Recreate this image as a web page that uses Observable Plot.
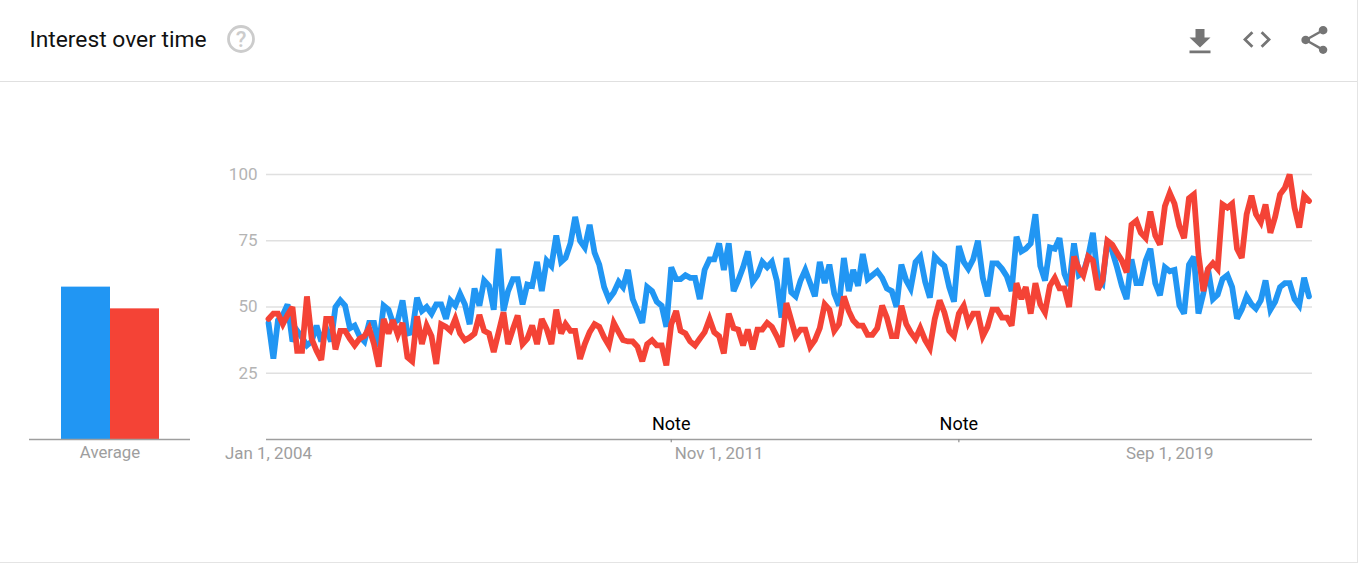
<!DOCTYPE html>
<html>
<head>
<meta charset="utf-8">
<script src="https://cdn.jsdelivr.net/npm/d3@7"></script>
<script src="https://cdn.jsdelivr.net/npm/@observablehq/plot@0.6"></script>
<style>
html,body{margin:0;padding:0;background:#fff;}
#card{position:relative;width:1358px;height:563px;box-sizing:border-box;border-right:1px solid #e4e4e4;border-bottom:1px solid #e4e4e4;overflow:hidden;font-family:Roboto,sans-serif;}
#head{position:absolute;left:0;top:0;width:1358px;height:81px;border-bottom:1px solid #e0e0e0;}
#title{position:absolute;left:29.5px;top:26px;font-size:22.8px;line-height:28px;color:#111;}
#icons{position:absolute;left:0;top:0;}
#lines,#bars{position:absolute;left:0;top:0;}
#lines svg,#bars svg{background:transparent;max-width:none;}
</style>
</head>
<body>
<div id="card">
  <div id="head">
    <div id="title">Interest over time</div>
    <svg id="icons" width="1358" height="81" aria-hidden="true">
      <circle cx="241" cy="39" r="12.5" fill="none" stroke="#cccccc" stroke-width="2.8"></circle>
      <text x="241" y="47" text-anchor="middle" font-family="Roboto" font-size="22" font-weight="500" fill="#cccccc">?</text>
      <path transform="translate(1182,24.7) scale(1.5,1.43)" fill="#757575" d="M19 9h-4V3H9v6H5l7 7 7-7zM5 18v2h14v-2H5z"></path>
      <path transform="translate(1240.2,23) scale(1.4,1.37)" fill="#757575" d="M9.4 16.6L4.8 12l4.6-4.6L8 6l-6 6 6 6 1.4-1.4zm5.2 0l4.6-4.6-4.6-4.6L16 6l6 6-6 6-1.4-1.4z"></path>
      <path transform="translate(1297,23.2) scale(1.45,1.4)" fill="#757575" d="M18 16.08c-.76 0-1.44.3-1.96.77L8.91 12.7c.05-.23.09-.46.09-.7s-.04-.47-.09-.7l7.05-4.11c.54.5 1.25.81 2.04.81 1.66 0 3-1.34 3-3s-1.34-3-3-3-3 1.34-3 3c0 .24.04.47.09.7L8.04 9.81C7.5 9.31 6.79 9 6 9c-1.66 0-3 1.34-3 3s1.34 3 3 3c.79 0 1.5-.31 2.04-.81l7.12 4.16c-.05.21-.08.43-.08.65 0 1.61 1.31 2.92 2.92 2.92 1.61 0 2.92-1.31 2.92-2.92s-1.31-2.92-2.92-2.92z"></path>
    </svg>
  </div>
  <div id="bars"></div>
  <div id="lines"></div>
</div>
<script>
const blueValues = [
  44,30.5,45,47,51,37,41,38.5,35.5,37,
  43,37,42,37,50,52.5,50.5,42,43,39,
  37,44,44,35,50.5,49,44,45,52.5,40,
  40.5,53.5,48.5,50,47.5,51,51,45.5,52.5,50.5,
  55,51,43.5,57,50.5,60,58,49,72,48.5,
  56,60.5,60.5,51,58.5,58,67,56,67.5,65.5,
  77,67,68.5,74,84,75,72.5,81,70.5,66,
  57.5,53,55.5,59.5,57.5,64,53,48.5,44,57.5,
  56,52,50.5,42.5,65,60.5,60.5,62,61,61,
  53,64,68,68,74,64,74,56,60,65,
  71,59.5,62,67,65,67,60,46,68.5,55.5,
  54,60,64,59,54,67,59,66,55,50.5,
  68.5,56,64,58,70,60.5,62,63.5,61,57,
  56,50,66,60,57,67,69,59.5,53.5,69,
  67,65.5,57.5,52,73,67,64.4,68,75,61,
  54,66.5,66.5,64.4,61.5,56,76.5,71,72,74,
  85,65.5,60,72.5,72,76,62.5,58,74,62,
  63,69,78,61,59,75,71,65,58,53,
  68,59,59,67.5,72,59,54.4,65,63.5,64,
  50.6,47.5,66,69,47.5,55,64.4,53,54.7,60.6,
  62,57.5,45.6,49,54,51,49.4,52.5,60,49,
  52,57.5,59,59,53,50.6,61,54
];
const redValues = [
  45.5,47.5,47.5,43.5,47,50,33.5,33.5,54,38,
  33.5,30,45.5,45.5,34,41,41,38,35.5,38,
  39,42,36,27.5,45.5,40,45,39.5,44,31,
  29.5,46.5,36,43,39,28.5,43.5,42.5,41,45.5,
  40,37.5,38.5,40,47,41,40,33,40.5,48,
  36,41.7,46.8,36,38,43,36,45.5,41.7,36,
  49,40,43.6,41,41,30.4,36,40.5,43.5,42.5,
  38.5,35.5,44,40.5,37.5,37,37,35,29.5,36,
  37.5,35.5,35.5,28,43.5,48.5,41,40,37,35.5,
  38,40.5,45.5,40.5,39,32.5,47.5,42,41.5,35.5,
  41.5,34,41.5,41.5,44,42.5,39,35,51.5,45,
  39,41.5,41.5,35,37.5,42,51,49,41,43.5,
  54,48.5,45,43,43,39.5,39.5,42,50.5,46,
  39,39,50.5,43.5,40.5,38,42,37.5,34.5,45.5,
  52.5,48,41,39,47.5,50.5,44,47.5,47.5,39,
  42.5,49,49,46,46,43,59,53,57.5,47.5,
  59,51,48,58,61,57,57,50,69,64.5,
  62,69,67.5,56.5,60,75,73.5,70.5,67.5,63,
  81,82.5,78,76,86,77,73.5,88,93,89,
  80.6,76,91,92.5,70,56,64.4,66.5,64.4,88.7,
  87.5,89,72,68.5,85,92,85,82,88.7,78,
  84,92.5,95,100,87.5,80,92,90
];
const months = d3.utcMonth.range(new Date(Date.UTC(2004,0,1)), new Date(Date.UTC(2022,2,1)));
const yTicks = [25,50,75,100];
const xTickDates = [new Date(Date.UTC(2004,0,1)), new Date(Date.UTC(2011,10,1)), new Date(Date.UTC(2019,8,1))];
const noteDates = [new Date(Date.UTC(2011,0,1)), new Date(Date.UTC(2016,0,1))];
const noteLabel = "Note";
const averageNames = ["Series 1","Series 2"];
const averageValues = [57.5,49.3];
const averageLabel = "Average";
const blue = "#2196f3", red = "#f44336";

const blueRows = months.map((date,i)=>({date,value:blueValues[i]}));
const redRows = months.map((date,i)=>({date,value:redValues[i]}));
const averageRows = averageNames.map((name,i)=>({name,value:averageValues[i]}));

const lineChart = Plot.plot({
  width:1358, height:563,
  marginLeft:266, marginRight:46, marginTop:174, marginBottom:124,
  style:{fontFamily:"Roboto, sans-serif", background:"transparent"},
  x:{type:"utc", domain:[months[0], months[months.length-1]], range:[268,1308.5], label:null},
  y:{domain:[0,100], range:[439,174], label:null},
  marks:[
    Plot.ruleY(yTicks,{stroke:"#e0e0e0",strokeWidth:1.5}),
    Plot.ruleY([0],{stroke:"#9e9e9e",strokeWidth:1.5}),
    Plot.ruleX(noteDates,{y1:0,y2:-1.2,stroke:"#8e8e8e",strokeWidth:1.2}),
    Plot.line(blueRows,{x:"date",y:"value",stroke:blue,strokeWidth:5.8,strokeLinejoin:"miter",strokeMiterlimit:3}),
    Plot.line(redRows,{x:"date",y:"value",stroke:red,strokeWidth:5.8,strokeLinejoin:"miter",strokeMiterlimit:3}),
    Plot.text(noteDates,{x:d=>d,y:0,text:()=>noteLabel,dy:-15.5,fontSize:18,fill:"#000"}),
    Plot.axisY({ticks:yTicks,tickSize:0,tickPadding:9,fontSize:17,color:"#b4b4b4",label:null}),
    Plot.axisX({ticks:xTickDates,tickSize:0,tickPadding:7,fontSize:16.9,color:"#9e9e9e",label:null,tickFormat:d3.utcFormat("%b %-d, %Y")})
  ]
});
document.getElementById("lines").appendChild(lineChart);

const barChart = Plot.plot({
  width:200, height:563,
  marginLeft:29, marginRight:10, marginTop:174, marginBottom:124,
  style:{fontFamily:"Roboto, sans-serif", background:"transparent"},
  x:{type:"band", domain:averageNames, range:[60.5,158.5], padding:0, axis:null, label:null},
  y:{domain:[0,100], range:[439,174], axis:null, label:null},
  marks:[
    Plot.barY(averageRows,{x:"name",y:"value",fill:"name",inset:0}),
    Plot.ruleY([0],{stroke:"#9e9e9e",strokeWidth:1.5}),
    Plot.text([averageLabel],{frameAnchor:"bottom",text:d=>d,dy:18.5,fontSize:16.8,fill:"#9e9e9e"})
  ],
  color:{domain:averageNames,range:[blue,red]}
});
document.getElementById("bars").appendChild(barChart);
</script>
</body>
</html>
